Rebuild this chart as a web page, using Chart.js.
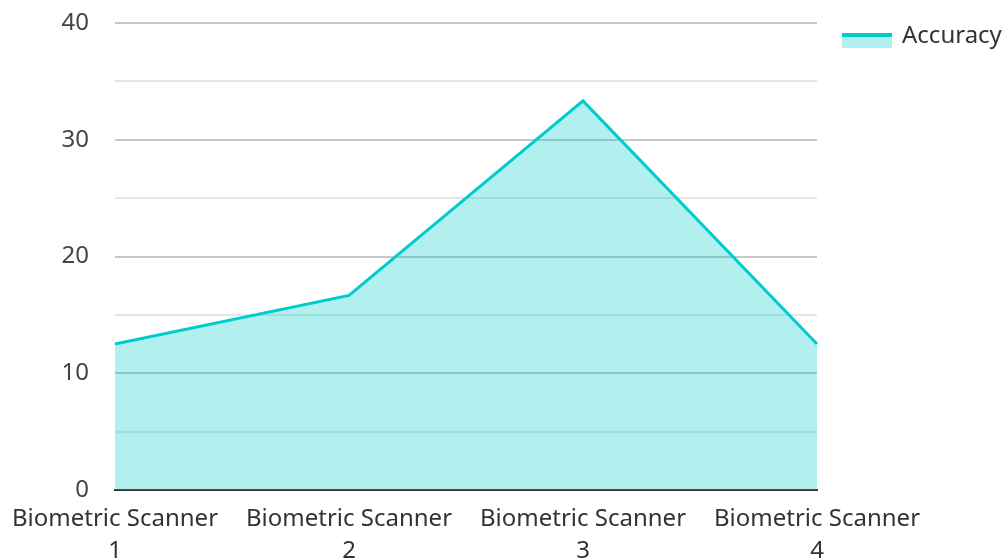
<!DOCTYPE html>
<html>
<head>
<meta charset="utf-8">
<script src="https://cdn.jsdelivr.net/npm/chart.js@4/dist/chart.umd.min.js"></script>
<style>
  html, body { margin: 0; padding: 0; background: #fff; }
  #wrap { width: 1007px; height: 560px; }
</style>
</head>
<body>
<div id="wrap"><canvas id="accChart"></canvas></div>
<script>
const categories = [
    ['Biometric Scanner', '1'],
    ['Biometric Scanner', '2'],
    ['Biometric Scanner', '3'],
    ['Biometric Scanner', '4']
];
const seriesName = 'Accuracy';
const accuracy = [12.5, 16.67, 33.33, 12.5];
const yTicks = [0, 10, 20, 30, 40];

const lineColor = '#00cccc';
const fillColor = 'rgba(0, 204, 204, 0.3)';
const fontFamily = "'Noto Sans', 'Open Sans', sans-serif";

// legend on the right: filled swatch with a thick top stroke, then the label
const sideLegend = {
    id: 'sideLegend',
    afterDraw(chart) {
        const ctx = chart.ctx;
        const x = chart.chartArea.right + 25;
        const y = 33;
        ctx.save();
        chart.data.datasets.forEach((ds, i) => {
            const top = y + i * 34;
            ctx.fillStyle = ds.backgroundColor;
            ctx.fillRect(x, top, 50, 15);
            ctx.fillStyle = ds.borderColor;
            ctx.fillRect(x, top, 50, 4);
            ctx.fillStyle = '#333';
            ctx.font = `24px ${fontFamily}`;
            ctx.textBaseline = 'middle';
            ctx.textAlign = 'left';
            ctx.fillText(ds.label, x + 60, top + 3);
        });
        ctx.restore();
    }
};

const ctx = document.getElementById('accChart').getContext('2d');

new Chart(ctx, {
    type: 'line',
    data: {
        labels: categories,
        datasets: [{
            label: seriesName,
            data: accuracy,
            borderColor: lineColor,
            backgroundColor: fillColor,
            borderWidth: 3,
            fill: 'origin',
            tension: 0,
            pointRadius: 0
        }]
    },
    options: {
        responsive: true,
        maintainAspectRatio: false,
        animation: false,
        layout: {
            padding: { top: 23, right: 190, bottom: 0, left: 0 }
        },
        plugins: {
            legend: { display: false },
            tooltip: { enabled: false }
        },
        scales: {
            x: {
                grid: { display: false, drawTicks: false },
                border: { display: true, color: '#333', width: 2 },
                afterFit: axis => {
                    axis.height = 70;
                    axis.paddingLeft = 0;
                    axis.paddingRight = 0;
                },
                ticks: {
                    color: '#333',
                    padding: 14,
                    maxRotation: 0,
                    autoSkip: false,
                    font: { family: fontFamily, size: 24, lineHeight: 1.3 }
                }
            },
            y: {
                min: 0,
                max: 40,
                afterFit: axis => {
                    axis.width = 115;
                    axis.paddingTop = 0;
                    axis.paddingBottom = 0;
                },
                grid: {
                    drawTicks: false,
                    lineWidth: 2,
                    color: c => (c.tick && c.tick.value % 10 === 0) ? '#c8c8c8' : '#e6e6e6'
                },
                border: { display: false },
                ticks: {
                    stepSize: 5,
                    padding: 26,
                    color: '#444',
                    font: { family: fontFamily, size: 24 },
                    callback: v => yTicks.includes(v) ? v : ''
                }
            }
        }
    },
    plugins: [sideLegend]
});
</script>
</body>
</html>
